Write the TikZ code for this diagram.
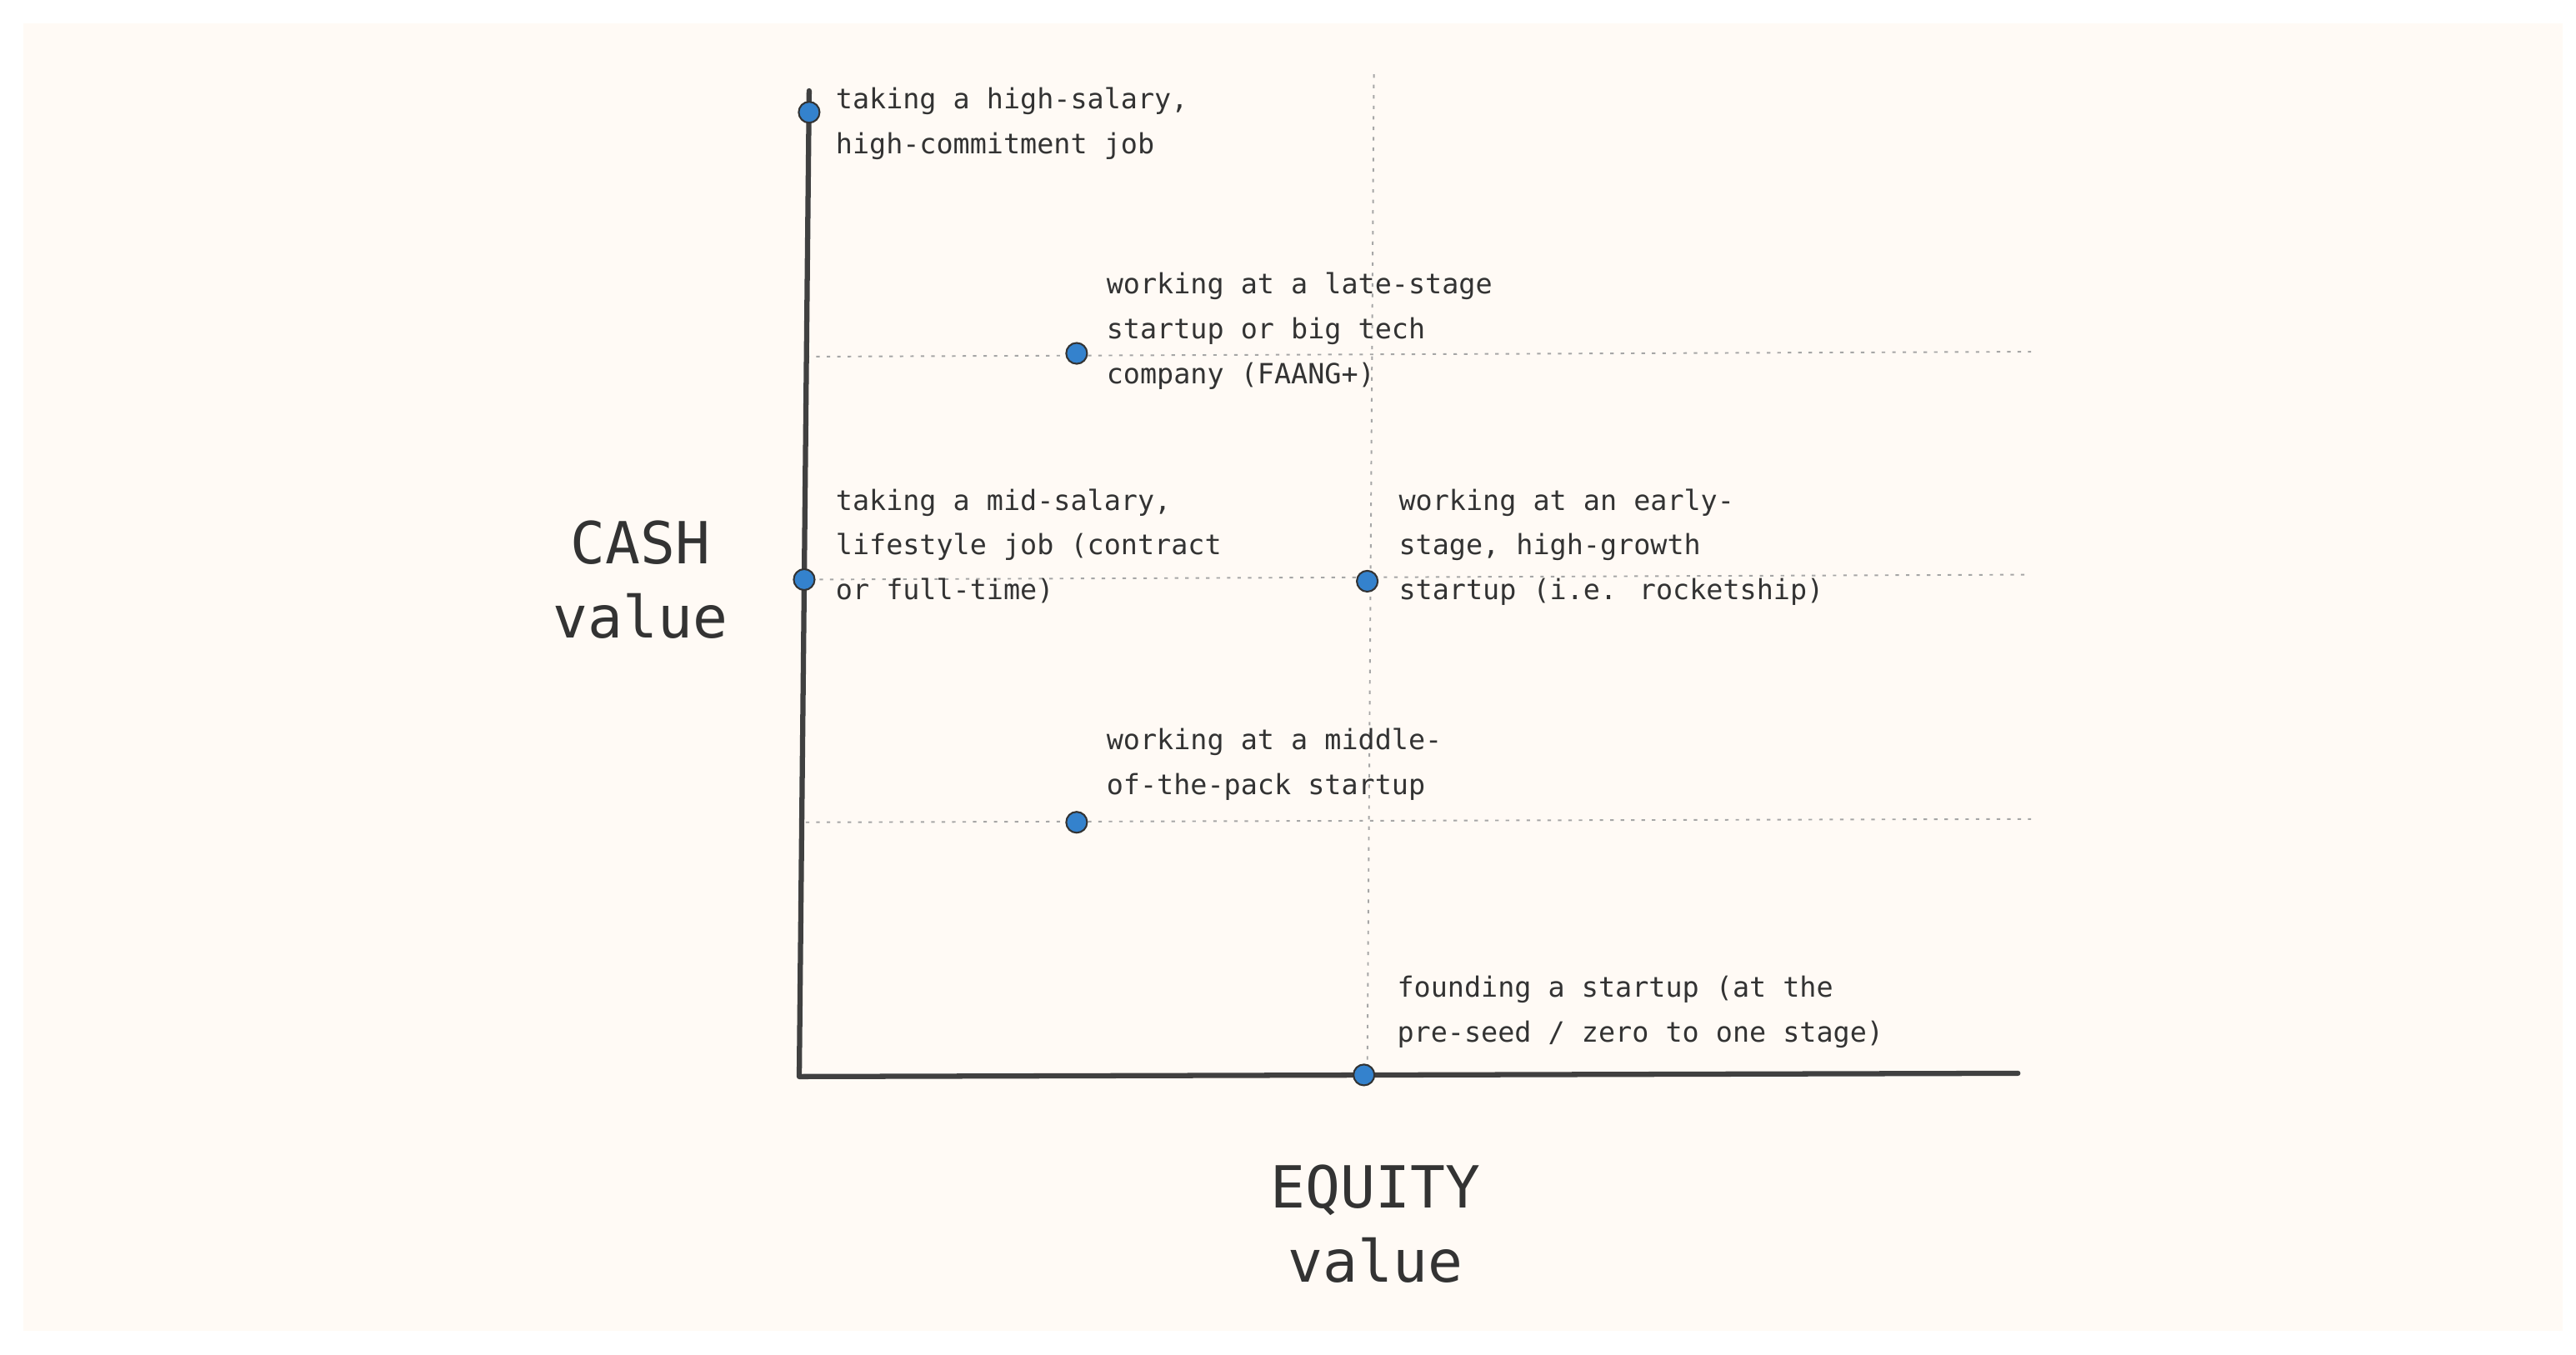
\documentclass[tikz,border=0pt]{standalone}
\usepackage{fontspec}
\setmainfont{DejaVu Sans Mono}
\begin{document}
\begin{tikzpicture}[x=0.05cm,y=-0.05cm,
  axis/.style={line width=4.5pt,draw=black!75,line cap=round,line join=round},
  grid/.style={line width=1.4pt,draw=black!35,dash pattern=on 3pt off 6pt},
  dot/.style={circle,fill=cyan!55!blue!85,draw=black!80,line width=1.5pt,minimum size=18pt,inner sep=0},
  lbl/.style={anchor=north west,inner sep=0,align=left,text=black!80,font=\fontsize{24}{38.5}\selectfont},
  big/.style={align=center,text=black!80,font=\fontsize{50}{64}\selectfont}]
\useasboundingbox (0,0) rectangle (1560,820.2);
\fill[white] (0,0) rectangle (1560,820.2);
\fill[orange!4!white] (14,14) rectangle (1552,806);
\coordinate (g1a) at (488,216); \coordinate (g1b) at (1230,213);
\coordinate (g2a) at (490,351); \coordinate (g2b) at (1230,348);
\coordinate (g3a) at (488,498); \coordinate (g3b) at (1230,496);
\coordinate (gva) at (832,45); \coordinate (gvb) at (828,650);
\draw[grid] (g1a)--(g1b); \draw[grid] (g2a)--(g2b); \draw[grid] (g3a)--(g3b);
\draw[grid] (gva)--(gvb);
\coordinate (top) at (490,55); \coordinate (orig) at (484,652); \coordinate (right) at (1222,650);
\draw[axis] (top)--(orig)--(right);
\node[dot] (d1) at (490,68) {};
\node[dot] (d2) at (652,214) {};
\node[dot] (d3) at (487,351) {};
\node[dot] (d4) at (828,352) {};
\node[dot] (d5) at (652,498) {};
\node[dot] (d6) at (826,651) {};
\node[lbl] (t1) at (506,53) {taking a high-salary,\\high-commitment job};
\node[lbl] (t2) at (670,165) {working at a late-stage\\startup or big tech\\company (FAANG+)};
\node[lbl] (t3) at (506,296) {taking a mid-salary,\\lifestyle job (contract\\or full-time)};
\node[lbl] (t4) at (847,296) {working at an early-\\stage, high-growth\\startup (i.e. rocketship)};
\node[lbl] (t5) at (670,441) {working at a middle-\\of-the-pack startup};
\node[lbl] (t6) at (846,591) {founding a startup (at the\\pre-seed / zero to one stage)};
\node[big] (cash) at (388,351) {CASH\\value};
\node[big] (eq) at (833,741) {EQUITY\\value};
\end{tikzpicture}
\end{document}
